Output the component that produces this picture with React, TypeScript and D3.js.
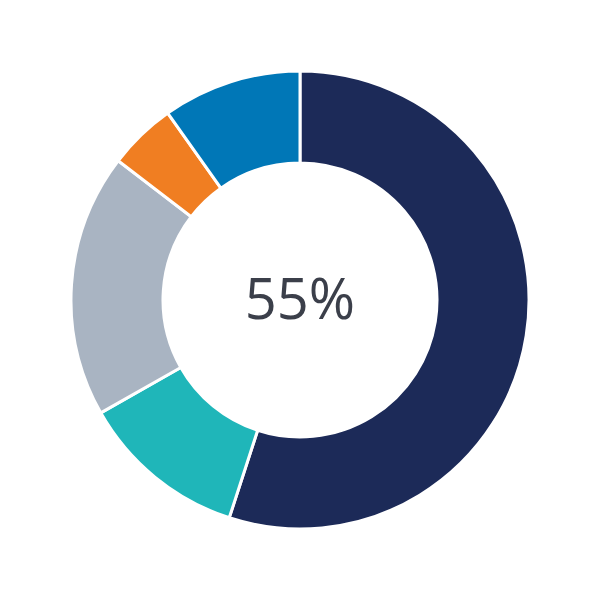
import React from "react";
import * as d3 from "d3";

const categories = ["A", "B", "C", "D", "E"];
const values = [55, 11.8, 18.6, 4.8, 9.8];
const colors = ["#1c2a58", "#1fb6b9", "#a9b4c2", "#f07e22", "#0077b7"];
const centerLabel = "55%";

export default function App() {
  const width = 600;
  const height = 600;
  const cx = 300;
  const cy = 300;
  const outerR = 229;
  const innerR = 137;
  const data = categories.map((c, i) => ({ c, v: values[i], color: colors[i] }));
  const pie = d3.pie<any>().value((d) => d.v).sort(null);
  const arc = d3.arc<any>().innerRadius(innerR).outerRadius(outerR);
  const arcs = pie(data);
  return (
    <svg
      width={width}
      height={height}
      style={{ position: "absolute", left: 0, top: 0, background: "#fff" }}
    >
      <g transform={`translate(${cx},${cy})`}>
        {arcs.map((a, i) => (
          <path key={i} d={arc(a) || ""} fill={a.data.color} stroke="#fff" strokeWidth={3} />
        ))}
        <text
          x={0}
          y={0}
          dy="0.34em"
          textAnchor="middle"
          fontFamily="'Open Sans', 'Noto Sans', sans-serif"
          fontSize={56}
          fill="#3b3f4a"
        >
          {centerLabel}
        </text>
      </g>
    </svg>
  );
}
